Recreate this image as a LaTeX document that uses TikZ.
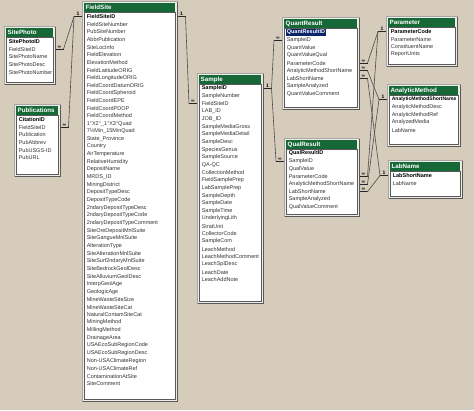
\documentclass[tikz,border=0pt]{standalone}
\usepackage{fontspec}
\setmainfont{Liberation Sans}
\usetikzlibrary{calc}
\definecolor{Backdrop}{RGB}{213,204,188}
\definecolor{WinFace}{RGB}{240,237,230}
\definecolor{TitleGreen}{RGB}{22,104,54}
\definecolor{SelBlue}{RGB}{12,36,106}
\definecolor{Gray}{rgb}{.35,.35,.35}

% table: [key style]{name}{left}{top}{right}{bottom}{key field}{other fields}
\newcommand{\dbtable}[8][]{%
	\node[tbl, minimum width={(#5-#3)*1pt}, minimum height={(#6-#4)*1pt}] (#2) at (#3,#4) {};
	\draw[Gray, line width=.8pt] (#3+.5,#6) -- (#5,#6) -- (#5,#4+.5);
	\fill[TitleGreen] (#3+2,#4+2) rectangle (#5-2,#4+11);
	\filldraw[fill=white, draw=Gray, line width=.4pt] (#3+2,#4+11.5) rectangle (#5-2,#6-2);
	\node[ttl] (#2-t) at (#3+3,#4+6.5) {#2};
	\node[fld, key, #1] (#2-1) at (#3+4,#4+15.5) {#7};
	\foreach \f [count=\i from 2] in {#8}
		\node[fld] (#2-\i) at ({#3+4},{#4+15.5+(\i-1)*7.65}) {\f};
}

\begin{document}
\begin{tikzpicture}[
		x=1pt, y=-1pt,
		tbl/.style={draw=black!35, fill=WinFace, anchor=north west, inner sep=0, line width=.5pt},
		ttl/.style={anchor=west, inner sep=0.5pt, text=white, font=\fontsize{6.2}{6.2}\selectfont\bfseries},
		fld/.style={anchor=west, inner sep=0.6pt, text=black!80, font=\fontsize{5.5}{6.5}\selectfont},
		key/.style={text=black, font=\fontsize{5.5}{6.5}\selectfont\bfseries},
		stub/.style={line width=1.1pt, draw=black!85},
		rel/.style={line width=.6pt, draw=black!70},
		card/.style={above, inner sep=0.4pt, font=\fontsize{5}{5}\selectfont\bfseries}
		]
		\fill[Backdrop] (0,0) rectangle (474,410);
		\useasboundingbox (0,0) rectangle (474,410);

		\dbtable{SitePhoto}{4}{26}{55}{84}{SitePhotoID}{FieldSiteID,SitePhotoName,SitePhotoDesc,SitePhotoNumber}
		\dbtable{Publications}{14}{104}{60}{176}{CitationID}{FieldSiteID,Publication,PubAbbrev,PubUSGS-ID,PubURL}
		\dbtable{FieldSite}{82}{1}{177}{401}{FieldSiteID}{FieldSiteNumber,PubSiteNumber,AbbrPublication,SiteLocInfo,FieldElevation,ElevationMethod,FieldLatitudeORIG,FieldLongitudeORIG,FieldCoordDatumORIG,FieldCoordSpheroid,FieldCoordEPE,FieldCoordPDOP,FieldCoordMethod,1°X2°\_1°X3°Quad,7½Min\_15MinQuad,State\_Province,Country,AirTemperature,RelativeHumidity,DepositName,MRDS\_ID,MiningDistrict,DepositTypeDesc,DepositTypeCode,2ndaryDepositTypeDesc,2ndaryDepositTypeCode,2ndaryDepositTypeComment,SiteOreDepositMnlSuite,SiteGangueMnlSuite,AlterationType,SiteAlterationMnlSuite,SiteSurf2ndaryMnlSuite,SiteBedrockGeolDesc,SiteAlluviumGeolDesc,InterpGeolAge,GeologicAge,MineWasteSiteSize,MineWasteSiteCat,NaturalContamSiteCat,MiningMethod,MillingMethod,DrainageArea,USAEcoSubRegionCode,USAEcoSubRegionDesc,Non-USAClimateRegion,Non-USAClimateRef,ContaminationAtSite,SiteComment}
		\dbtable{Sample}{197}{73}{263}{303}{SampleID}{SampleNumber,FieldSiteID,LAB\_ID,JOB\_ID,SampleMediaGross,SampleMediaDetail,SampleDesc,SpeciesGenus,SampleSource,QA-QC,CollectionMethod,FieldSamplePrep,LabSamplePrep,SampleDepth,SampleDate,SampleTime,UnderlyingLith,StratUnit,CollectorCode,SampleCom,LeachMethod,LeachMethodComment,LeachSplDesc,LeachDate,LeachAddNote}
		\dbtable[fill=SelBlue, text=white]{QuantResult}{282}{17}{359}{109}{QuantResultID}{SampleID,QuantValue,QuantValueQual,ParameterCode,AnalyticMethodShortName,LabShortName,SampleAnalyzed,QuantValueComment}
		\dbtable{QualResult}{284}{138}{359}{216}{QualResultID}{SampleID,QualValue,ParameterCode,AnalyticMethodShortName,LabShortName,SampleAnalyzed,QualValueComment}
		\dbtable{Parameter}{386}{16}{457}{66}{ParameterCode}{ParameterName,ConstituentName,ReportUnits}
		\dbtable[font=\fontsize{5.05}{6.5}\selectfont\bfseries]{AnalyticMethod}{387}{84}{460}{146}{AnalyticMethodShortName}{AnalyticMethodDesc,AnalyticMethodRef,AnalyzedMedia,LabName}
		\dbtable{LabName}{388}{160}{462}{198}{LabShortName}{LabName}

		% join ends
		\draw[stub] (FieldSite-1 -| FieldSite.west) -- node[card] (c1) {1} ++(-8,0) coordinate (fsL);
		\draw[stub] (FieldSite-1 -| FieldSite.east) -- node[card] (c2) {1} ++(8,0) coordinate (fsR);
		\draw[stub] (SitePhoto-2 -| SitePhoto.east) -- node[card] (c3) {∞} ++(8,0) coordinate (spR);
		\draw[stub] (Publications-2 -| Publications.east) -- node[card] (c4) {∞} ++(8,0) coordinate (pbR);
		\draw[stub] (Sample-3 -| Sample.west) -- node[card] (c5) {∞} ++(-8,0) coordinate (saL);
		\draw[stub] (Sample-1 -| Sample.east) -- node[card] (c6) {1} ++(8,0) coordinate (saR);
		\draw[stub] (QuantResult-2 -| QuantResult.west) -- node[card] (c7) {∞} ++(-8,0) coordinate (qnL);
		\draw[stub] (QualResult-2 -| QualResult.west) -- node[card] (c8) {∞} ++(-8,0) coordinate (qlL);
		\draw[stub] (QuantResult-5 -| QuantResult.east) -- node[card] (c9) {∞} ++(8,0) coordinate (qnP);
		\draw[stub] (QuantResult-6 -| QuantResult.east) -- node[card] (c10) {∞} ++(8,0) coordinate (qnA);
		\draw[stub] (QuantResult-7 -| QuantResult.east) -- node[card] (c11) {∞} ++(8,0) coordinate (qnN);
		\draw[stub] (QualResult-4 -| QualResult.east) -- node[card] (c12) {∞} ++(8,0) coordinate (qlP);
		\draw[stub] (QualResult-5 -| QualResult.east) -- node[card] (c13) {∞} ++(8,0) coordinate (qlA);
		\draw[stub] (QualResult-6 -| QualResult.east) -- node[card] (c14) {∞} ++(8,0) coordinate (qlN);
		\draw[stub] (Parameter-1 -| Parameter.west) -- node[card] (c15) {1} ++(-8,0) coordinate (paL);
		\draw[stub] (AnalyticMethod-1 -| AnalyticMethod.west) -- node[card] (c16) {1} ++(-8,0) coordinate (amL);
		\draw[stub] (LabName-1 -| LabName.west) -- node[card] (c17) {1} ++(-8,0) coordinate (lnL);

		% joins
		\draw[rel] (fsL) -- (spR);
		\draw[rel] (fsL) -- (pbR);
		\draw[rel] (fsR) -- (saL);
		\draw[rel] (saR) -- (qnL);
		\draw[rel] (saR) -- (qlL);
		\draw[rel] (qnP) -- (paL);
		\draw[rel] (qnA) -- (amL);
		\draw[rel] (qnN) -- (lnL);
		\draw[rel] (qlP) -- (paL);
		\draw[rel] (qlA) -- (amL);
		\draw[rel] (qlN) -- (lnL);
	\end{tikzpicture}
\end{document}
